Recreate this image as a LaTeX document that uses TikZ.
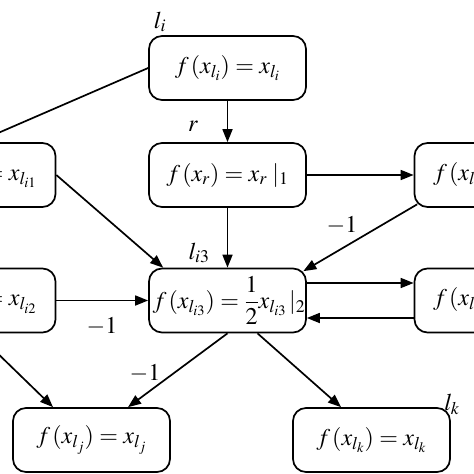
\documentclass[tikz,border=0pt]{standalone}
\usepackage{amsmath}
\usepackage{mathptmx}
\usetikzlibrary{arrows.meta}
% f with a little room before its bracket
\newcommand{\fx}{f\mkern1.5mu}
\begin{document}
\begin{tikzpicture}[x=1pt,y=1pt,
  box/.style={draw, line width=1.7pt, rounded corners=13pt,
    minimum width=157pt, minimum height=64pt, inner sep=0pt,
    font=\fontsize{24}{28}\selectfont},
  lbl/.style={font=\fontsize{24}{28}\selectfont, inner sep=0pt},
  arr/.style={line width=1.7pt, -{Triangle[length=13pt,width=10pt]}}]
\useasboundingbox (0,0) rectangle (474,-474);
\begin{scope}
\clip (0,0) rectangle (474,-474);
% equation nodes
\node[box] (li)  at (227.5,-68)   {$\fx(x_{l_i}) = x_{l_i}$};
\node[box] (r)   at (227.5,-175)  {$\fx(x_r) = x_r\;|_1$};
\node[box] (li3) at (227.5,-300.5) {\hspace{3pt}$\fx(x_{l_{i3}}) = \dfrac{1}{2}x_{l_{i3}}\,|_2$};
\node[box] (li1) at (-23,-175)    {$\fx(x_{l_{i1}}) = x_{l_{i1}}$};
\node[box] (li2) at (-23,-300.5)  {$\fx(x_{l_{i2}}) = x_{l_{i2}}$};
\node[box] (ri1) at (493,-175)    {$\fx(x_{l_{i4}}) = x_{l_{i4}}$};
\node[box] (ri2) at (493,-300.5)  {$\fx(x_{l_{i5}}) = x_{l_{i5}}$};
\node[box] (lj)  at (91.5,-440)   {$\fx(x_{l_j}) = x_{l_j}$};
\node[box] (lk)  at (371.5,-440)  {$\fx(x_{l_k}) = x_{l_k}$};
% node names
\node[lbl] (tli)  at (160,-22)  {$l_i$};
\node[lbl] (tr)   at (193,-126) {$r$};
\node[lbl] (tli3) at (199,-253) {$l_{i3}$};
\node[lbl] (tlk)  at (452,-404) {$l_k$};
% connectors
\draw[arr] (li.west) -- (li1.north);
\draw[arr] (li.south) -- (r.north);
\draw[arr] (r.east) -- (ri1.west);
\draw[arr] (r.south) -- (li3.north);
\draw[arr] (li1.east) -- ([xshift=15pt]li3.north west);
\draw[arr] (li2.east) -- (li3.west);
\draw[arr] ([shift={(3.5pt,3.5pt)}]ri1.south west) -- ([shift={(-3.5pt,-3.5pt)}]li3.north east);
\draw[arr] ([yshift=17.5pt]li3.east) -- ([yshift=17.5pt]ri2.west);
\draw[arr] ([yshift=-17.5pt]ri2.west) -- ([yshift=-17.5pt]li3.east);
\draw[arr] (li3.south) -- ([xshift=36.5pt]lj.north);
\draw[arr] (li2.south) -- ([xshift=-38.5pt]lj.north);
\draw[arr] ([xshift=30pt]li3.south) -- ([xshift=-30.5pt]lk.north);
% weights
\node[lbl] (w1) at (102,-326) {$-1$};
\node[lbl] (w2) at (342,-225) {$-1$};
\node[lbl] (w3) at (145,-373) {$-1$};
\end{scope}
\end{tikzpicture}
\end{document}
